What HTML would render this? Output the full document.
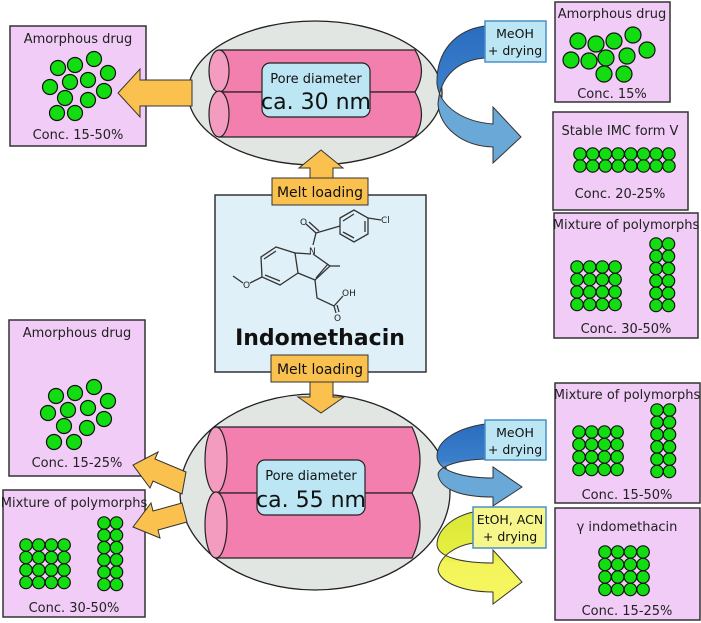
<!DOCTYPE html>
<html><head><meta charset="utf-8"><style>
html,body{margin:0;padding:0;background:#fff;}
svg{display:block;}
text{font-family:"DejaVu Sans","Liberation Sans",sans-serif;}
</style></head><body>
<svg width="701" height="623" viewBox="0 0 701 623" xmlns="http://www.w3.org/2000/svg">
<defs>
<linearGradient id="bl" x1="0" y1="0" x2="0" y2="1"><stop offset="0" stop-color="#2a6cc0"/><stop offset="0.45" stop-color="#3b7fcb"/><stop offset="0.55" stop-color="#6aa8d8"/><stop offset="1" stop-color="#6aa8d8"/></linearGradient>
<linearGradient id="yl" x1="0" y1="0" x2="0" y2="1"><stop offset="0" stop-color="#d8e83a"/><stop offset="0.5" stop-color="#e8f040"/><stop offset="0.55" stop-color="#f4f45a"/><stop offset="1" stop-color="#f6f660"/></linearGradient>
</defs>

<g stroke="#333" stroke-width="1.5" fill="#f0ccf6">
<rect x="10" y="26" width="136" height="120"/>
<rect x="555" y="2" width="115" height="100"/>
<rect x="553" y="112" width="135" height="98"/>
<rect x="554" y="213" width="144" height="125"/>
<rect x="9" y="320" width="136" height="156"/>
<rect x="3" y="490" width="142" height="127"/>
<rect x="555" y="383" width="145" height="120"/>
<rect x="555" y="508" width="145" height="112"/>
</g>
<g font-size="13" fill="#222" text-anchor="middle">
<text x="78" y="43">Amorphous drug</text><text x="78" y="139">Conc. 15-50%</text>
<text x="612" y="18">Amorphous drug</text><text x="612" y="98">Conc. 15%</text>
<text x="620" y="135">Stable IMC form V</text><text x="620" y="198">Conc. 20-25%</text>
<text x="626" y="229">Mixture of polymorphs</text><text x="626" y="333">Conc. 30-50%</text>
<text x="77" y="337">Amorphous drug</text><text x="77" y="467">Conc. 15-25%</text>
<text x="74" y="507">Mixture of polymorphs</text><text x="74" y="612">Conc. 30-50%</text>
<text x="627" y="399">Mixture of polymorphs</text><text x="627" y="499">Conc. 15-50%</text>
<text x="627" y="531">γ indomethacin</text><text x="627" y="615">Conc. 15-25%</text>
</g>

<g fill="#11dd11" stroke="#111" stroke-width="1.2">
<circle cx="58" cy="68" r="7.5"/><circle cx="75" cy="65" r="7.5"/><circle cx="94" cy="59" r="7.5"/><circle cx="108" cy="73" r="7.5"/>
<circle cx="50" cy="87" r="7.5"/><circle cx="70" cy="82" r="7.5"/><circle cx="88" cy="80" r="7.5"/><circle cx="104" cy="91" r="7.5"/>
<circle cx="65" cy="98" r="7.5"/><circle cx="88" cy="100" r="7.5"/><circle cx="57" cy="113" r="7.5"/><circle cx="75" cy="113" r="7.5"/>
<circle cx="578" cy="41" r="8"/><circle cx="596" cy="44" r="8"/><circle cx="614" cy="41" r="8"/><circle cx="633" cy="35" r="8"/><circle cx="647" cy="50" r="8"/>
<circle cx="571" cy="60" r="8"/><circle cx="589" cy="61" r="8"/><circle cx="606" cy="58" r="8"/><circle cx="627" cy="56" r="8"/>
<circle cx="604" cy="74" r="8"/><circle cx="624" cy="74" r="8"/>
<circle cx="56" cy="396" r="7.5"/><circle cx="75" cy="393" r="7.5"/><circle cx="94" cy="387" r="7.5"/><circle cx="108" cy="401" r="7.5"/>
<circle cx="48" cy="413" r="7.5"/><circle cx="68" cy="410" r="7.5"/><circle cx="88" cy="408" r="7.5"/><circle cx="104" cy="419" r="7.5"/>
<circle cx="64" cy="426" r="7.5"/><circle cx="87" cy="428" r="7.5"/><circle cx="54" cy="442" r="7.5"/><circle cx="74" cy="442" r="7.5"/>
</g>
<g id="grids" fill="#11dd11" stroke="#111" stroke-width="1.2"></g>

<ellipse cx="315" cy="93" rx="127" ry="72" fill="#e2e6e2" stroke="#222" stroke-width="1.3"/>
<ellipse cx="315" cy="492" rx="135" ry="98" fill="#e2e6e2" stroke="#222" stroke-width="1.3"/>

<g fill="#fbc14f" stroke="#333" stroke-width="1">
<polygon points="192,80 140,80 140,69 118,93 140,117 140,106 192,106"/>
<polygon points="310,180 310,168 299,168 321,150 343,168 333,168 333,180"/>
<polygon points="310,380 310,397 298,397 321,413 344,397 333,397 333,380"/>
<polygon points="186,472 155,459 158,452 133,465 150,488 153,481 182,494"/>
<polygon points="182,503 153,511 151,503 133,527 160,538 158,530 187,522"/>
</g>

<g stroke="#222" stroke-width="1.2">
<path d="M219,50 L415,50 Q428,71 415,92 L219,92 Z" fill="#f27fad"/>
<path d="M219,92 L415,92 Q428,114 415,137 L219,137 Z" fill="#f27fad"/>
<ellipse cx="219" cy="71" rx="10" ry="21" fill="#f49bc0"/>
<ellipse cx="219" cy="114" rx="10" ry="23" fill="#f49bc0"/>
<path d="M216,427 L412,427 Q428,460 412,493 L216,493 Z" fill="#f27fad"/>
<path d="M216,493 L412,493 Q428,525 412,558 L216,558 Z" fill="#f27fad"/>
<ellipse cx="216" cy="460" rx="11" ry="33" fill="#f49bc0"/>
<ellipse cx="216" cy="525" rx="11" ry="33" fill="#f49bc0"/>
</g>
<rect x="262" y="63" width="108" height="54" rx="8" fill="#bde6f4" stroke="#222" stroke-width="1.2"/>
<text x="316" y="83" font-size="13" text-anchor="middle" fill="#111">Pore diameter</text>
<text x="316" y="109" font-size="22" text-anchor="middle" fill="#111">ca. 30 nm</text>
<rect x="257" y="460" width="108" height="55" rx="8" fill="#bde6f4" stroke="#222" stroke-width="1.2"/>
<text x="311" y="480" font-size="13" text-anchor="middle" fill="#111">Pore diameter</text>
<text x="311" y="507" font-size="22" text-anchor="middle" fill="#111">ca. 55 nm</text>

<rect x="215" y="195" width="211" height="177" fill="#dff0f8" stroke="#333" stroke-width="1.5"/>
<rect x="272" y="178" width="96" height="27" fill="#fbc14f" stroke="#333" stroke-width="1"/>
<text x="320" y="197" font-size="14" text-anchor="middle" fill="#111">Melt loading</text>
<rect x="271" y="355" width="97" height="27" fill="#fbc14f" stroke="#333" stroke-width="1"/>
<text x="320" y="374" font-size="14" text-anchor="middle" fill="#111">Melt loading</text>
<g stroke="#333" stroke-width="1.3" fill="none">
<polygon points="340,218 354,210 368,218 368,234 354,242 340,234"/>
<line x1="343" y1="221" x2="354" y2="214"/><line x1="365" y1="221" x2="365" y2="232"/><line x1="343" y1="232" x2="354" y2="238"/>
<line x1="368" y1="218" x2="381" y2="220"/>
<line x1="340" y1="226" x2="316" y2="233"/>
<line x1="316" y1="233" x2="306" y2="224"/><line x1="319" y1="231" x2="309" y2="222"/>
<line x1="316" y1="233" x2="313" y2="245"/>
<polyline points="311,254 295,253 298,273 315,280 330,266 313,254"/>
<line x1="328" y1="264" x2="316" y2="278"/>
<line x1="330" y1="266" x2="340" y2="266"/>
<polyline points="295,253 276,247 261,257 262,277 280,285 298,273"/>
<line x1="264" y1="259" x2="276" y2="251"/><line x1="265" y1="275" x2="280" y2="281"/>
<line x1="262" y1="277" x2="250" y2="283"/><line x1="243" y1="283" x2="233" y2="276"/>
<polyline points="315,280 317,298 334,306 343,296"/>
<line x1="334" y1="306" x2="336" y2="313"/><line x1="337" y1="305" x2="339" y2="312"/>
</g>
<g font-size="9" fill="#222">
<text x="381" y="223">Cl</text><text x="300" y="225">O</text><text x="309" y="254">N</text>
<text x="243" y="288">O</text><text x="342" y="296">OH</text><text x="334" y="321">O</text>
</g>
<text x="320" y="345" font-size="22" font-weight="bold" text-anchor="middle" fill="#111">Indomethacin</text>

<g stroke="#333" stroke-width="1">
<path d="M485,26 C455,30 436,52 437,84 C440,108 465,122 493,124 L493,107 L521,137 L493,163 L493,147 C462,146 440,128 438,104 C440,76 458,60 485,58 Z" fill="url(#bl)"/>
<path d="M485,424 C458,428 437,440 437,456 C437,470 460,478 493,478 L493,467 L522,487 L493,506 L493,497 C462,497 440,490 438,474 C440,466 458,460 485,459 Z" fill="url(#bl)"/>
<path d="M473,512 C452,517 437,530 437,545 C438,558 465,563 493,563 L493,550 L522,582 L493,604 L493,592 C462,592 440,582 438,570 C440,556 455,546 473,543 Z" fill="url(#yl)"/>
</g>
<rect x="485" y="21" width="61" height="41" fill="#bde6f4" stroke="#4a90c8" stroke-width="1.5"/>
<text x="515" y="38" font-size="12.5" text-anchor="middle" fill="#111">MeOH</text>
<text x="515" y="55" font-size="12.5" text-anchor="middle" fill="#111">+ drying</text>
<rect x="485" y="420" width="61" height="40" fill="#bde6f4" stroke="#4a90c8" stroke-width="1.5"/>
<text x="515" y="437" font-size="12.5" text-anchor="middle" fill="#111">MeOH</text>
<text x="515" y="454" font-size="12.5" text-anchor="middle" fill="#111">+ drying</text>
<rect x="473" y="507" width="73" height="41" fill="#f6f68a" stroke="#4a90c8" stroke-width="1.5"/>
<text x="510" y="524" font-size="12.5" text-anchor="middle" fill="#111">EtOH, ACN</text>
<text x="510" y="541" font-size="12.5" text-anchor="middle" fill="#111">+ drying</text>
</svg>
<script>
(function(){
var g=document.getElementById('grids'),ns='http://www.w3.org/2000/svg';
function grid(x0,y0,cols,rows,dx,dy,r){for(var i=0;i<rows;i++)for(var j=0;j<cols;j++){var c=document.createElementNS(ns,'circle');c.setAttribute('cx',x0+j*dx);c.setAttribute('cy',y0+i*dy);c.setAttribute('r',r);g.appendChild(c);}}
grid(580,154,8,1,12.7,0,6.2);grid(580,166,8,1,12.7,0,6.2);
grid(577,267,4,4,12.7,12.5,6.2);grid(656,244,2,6,12.5,12.3,6.2);
grid(26,545,4,4,12.7,12.5,6.2);grid(104,523,2,6,12.5,12.3,6.2);
grid(579,432,4,4,12.7,12.5,6.2);grid(657,410,2,6,12.5,12.3,6.2);
grid(605,552,4,4,12.7,12.5,6.2);
})();
</script>
</body></html>
